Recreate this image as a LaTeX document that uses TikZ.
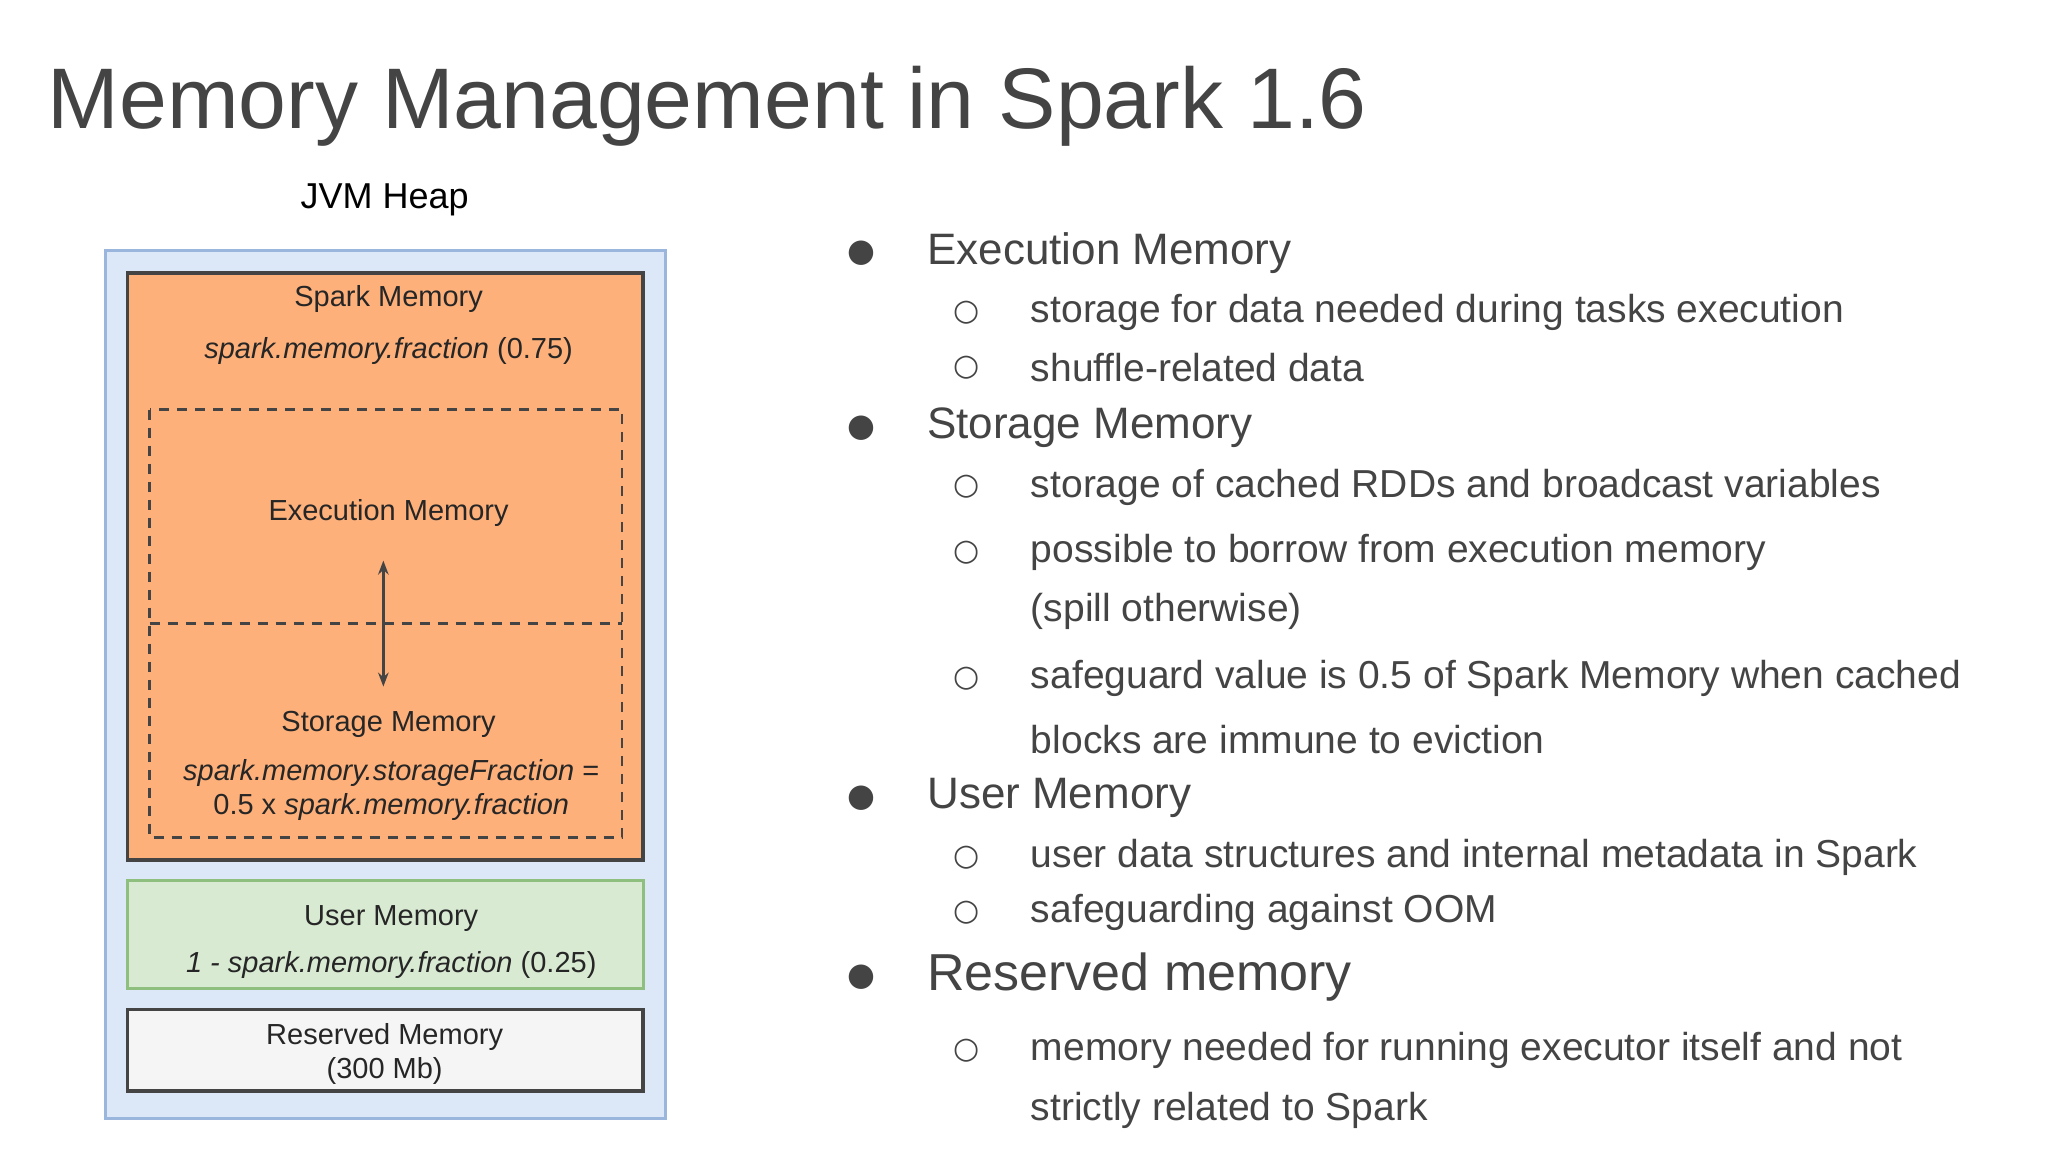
\documentclass[tikz,border=0pt]{standalone}
\usepackage{fontspec}
\usetikzlibrary{arrows.meta}
\setmainfont{Liberation Sans}
\newfontfamily\symf{DejaVu Sans}
\definecolor{tgray}{HTML}{444444}
\definecolor{orng}{HTML}{FDB07A}
\definecolor{bluef}{HTML}{DCE8F8}
\definecolor{blueb}{HTML}{9AB6DC}
\definecolor{greenf}{HTML}{D9EAD3}
\definecolor{greenb}{HTML}{8FBF7F}
\begin{document}
\begin{tikzpicture}[x=0.6564pt,y=-0.6564pt,
  dtext/.style={font=\fontsize{14.5}{16}\selectfont,text=black!85,inner sep=0},
  hdr/.style={font=\fontsize{22}{24}\selectfont,text=tgray,anchor=west,inner sep=0},
  sub/.style={font=\fontsize{19.5}{22}\selectfont,text=tgray,anchor=west,inner sep=0},
  bul/.style={font=\symf\fontsize{16}{18}\selectfont,text=tgray,inner sep=0},
  sbul/.style={font=\symf\fontsize{15}{18}\selectfont,text=tgray,inner sep=0}]
\useasboundingbox[fill=white] (0,0) rectangle (1560,877.5);
\node[anchor=base west,inner sep=0,text=tgray,font=\fontsize{43}{46}\selectfont] (title) at (36,98) {Memory Management in Spark 1.6};
\node[font=\fontsize{18}{20}\selectfont,inner sep=0] (jvm) at (293,152) {JVM Heap};
\node[draw=blueb,fill=bluef,line width=1.5pt,minimum width=427*0.6564pt,minimum height=661*0.6564pt,inner sep=0] (heap) at (293.5,521.5) {};
\node[draw=tgray,fill=orng,line width=1.8pt,minimum width=393*0.6564pt,minimum height=447*0.6564pt,inner sep=0] (spark) at (293.5,431.5) {};
\draw[tgray,line width=1.2pt,dash pattern=on 5pt off 4pt] (114,312) rectangle (474,638);
\draw[tgray,line width=1.2pt,dash pattern=on 5pt off 4pt] (114,475) -- (474,475);
\node[dtext] (sm) at (296,228) {Spark Memory};
\node[dtext] (smf) at (296,267) {\textit{spark.memory.fraction} (0.75)};
\node[dtext] (em) at (296,391) {Execution Memory};
\coordinate (a1) at (292,427);
\coordinate (a2) at (292,523);
\draw[tgray,line width=1.5pt,{Stealth[length=7pt]}-{Stealth[length=7pt]}] (a1) -- (a2);
\node[dtext] (stm) at (296,552) {Storage Memory};
\node[dtext] (stf1) at (298,589) {\textit{spark.memory.storageFraction} =};
\node[dtext] (stf2) at (298,615) {0.5 x \textit{spark.memory.fraction}};
\node[draw=greenb,fill=greenf,line width=1.5pt,minimum width=393*0.6564pt,minimum height=82*0.6564pt,inner sep=0] (user) at (293.5,712) {};
\node[dtext] (um) at (298,700) {User Memory};
\node[dtext] (umf) at (298,735) {\textit{1 - spark.memory.fraction} (0.25)};
\node[draw=tgray,fill=black!4,line width=1.8pt,minimum width=393*0.6564pt,minimum height=62*0.6564pt,inner sep=0] (res) at (293.5,800) {};
\node[dtext] (rm) at (293,790) {Reserved Memory};
\node[dtext] (rmb) at (293,816) {(300 Mb)};
\foreach \y/\t in {193/Execution Memory,326/Storage Memory,608/User Memory}{
  \node[bul] at (656,\y) {●};
  \node[hdr] at (706,\y) {\t};}
\node[bul] at (656,744) {●};
\node[hdr,font=\fontsize{26}{28}\selectfont] (resm) at (706,744) {Reserved memory};
\foreach \y/\t in {238/storage for data needed during tasks execution,
  280/shuffle-related data,
  371/storage of cached RDDs and broadcast variables,
  421/possible to borrow from execution memory,
  517/safeguard value is 0.5 of Spark Memory when cached,
  653/user data structures and internal metadata in Spark,
  695/safeguarding against OOM,
  800/memory needed for running executor itself and not}{
  \node[sbul] at (736,\y) {○};
  \node[sub] at (785,\y) {\t};}
\node[sub] at (785,466) {(spill otherwise)};
\node[sub] at (785,563) {blocks are immune to eviction};
\node[sub] at (785,846) {strictly related to Spark};
\end{tikzpicture}
\end{document}
